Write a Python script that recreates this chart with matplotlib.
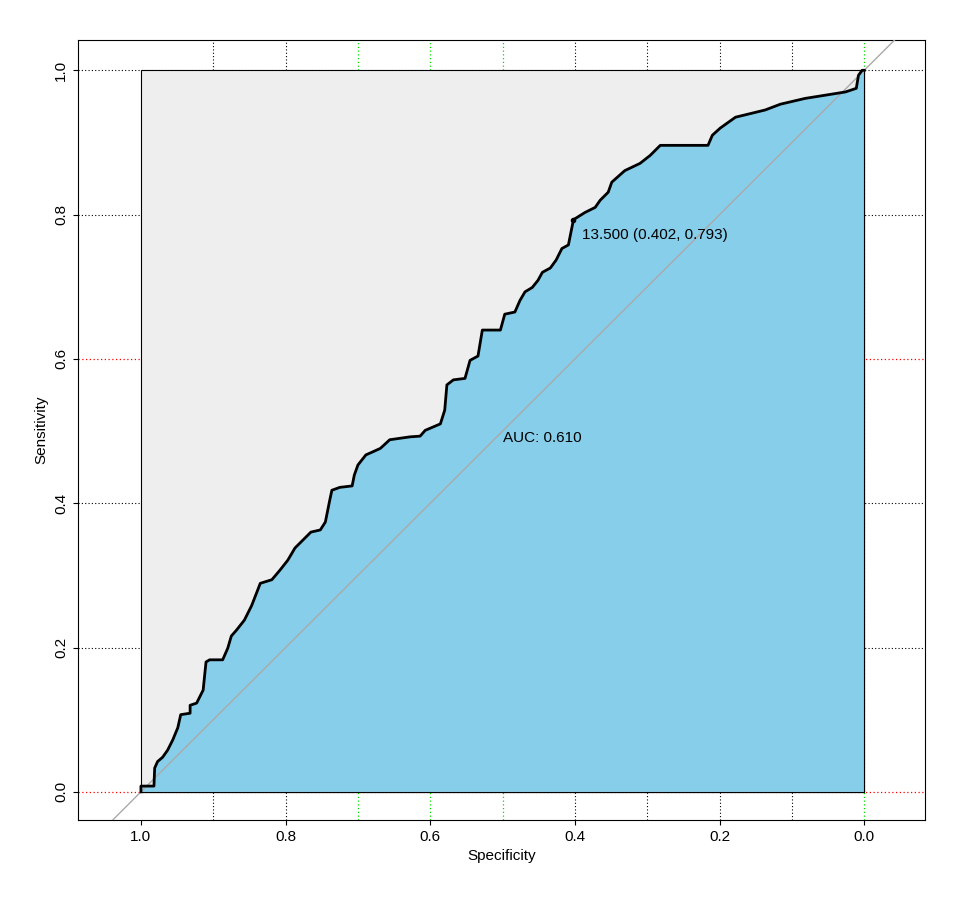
import matplotlib
matplotlib.use("Agg")
import matplotlib.pyplot as plt
import numpy as np

spec = [1.000,1.000,0.982,0.981,0.977,0.970,0.963,0.956,0.949,0.945,0.932,0.932,0.923,0.914,0.910,0.905,0.887,0.880,0.875,0.868,0.857,0.847,0.840,0.835,0.819,0.808,0.797,0.787,0.776,0.765,0.752,0.745,0.739,0.736,0.725,0.708,0.705,0.700,0.689,0.680,0.669,0.656,0.628,0.614,0.607,0.586,0.580,0.577,0.568,0.552,0.545,0.534,0.528,0.503,0.497,0.483,0.476,0.469,0.459,0.451,0.445,0.434,0.426,0.418,0.409,0.402,0.386,0.372,0.365,0.354,0.349,0.331,0.310,0.296,0.282,0.216,0.210,0.199,0.178,0.137,0.116,0.082,0.026,0.011,0.008,0.003,0.000]
sens = [0.000,0.008,0.008,0.033,0.042,0.048,0.058,0.072,0.089,0.107,0.109,0.120,0.123,0.141,0.180,0.183,0.183,0.199,0.216,0.224,0.238,0.258,0.276,0.289,0.294,0.307,0.321,0.338,0.349,0.360,0.363,0.374,0.404,0.418,0.422,0.424,0.439,0.453,0.467,0.471,0.476,0.488,0.492,0.493,0.501,0.510,0.529,0.564,0.571,0.573,0.598,0.604,0.640,0.640,0.662,0.665,0.681,0.693,0.699,0.709,0.720,0.726,0.737,0.753,0.758,0.793,0.803,0.810,0.820,0.831,0.845,0.861,0.871,0.882,0.896,0.896,0.910,0.920,0.935,0.945,0.953,0.961,0.970,0.975,0.993,1.000,1.000]
auc = 0.610
thr, thr_spec, thr_sens = 13.5, 0.402, 0.793

plt.rcParams['font.family'] = ['Liberation Sans', 'DejaVu Sans']
fig = plt.figure(figsize=(9.67, 9.0), dpi=100)
ax = fig.add_axes([78/967, 80/900, 847/967, 780/900])
ax.set_xlim(1.087, -0.084)
ax.set_ylim(-0.039, 1.042)

for v in [0.9,0.8,0.4,0.3,0.2,0.1]:
    ax.axvline(v, color='black', ls=(0,(1,2)), lw=0.8, zorder=0)
for v in [0.7,0.6,0.5,0.0]:
    ax.axvline(v, color='#00dd00', ls=(0,(1,2)), lw=0.9, zorder=0)
for v in [1.0,0.8,0.4,0.2]:
    ax.axhline(v, color='black', ls=(0,(1,2)), lw=0.8, zorder=0)
for v in [0.6,0.0]:
    ax.axhline(v, color='red', ls=(0,(1,2)), lw=0.9, zorder=0)

ax.fill([1,0,0,1],[0,0,1,1], facecolor='#EEEEEE', edgecolor='black', lw=0.8, zorder=1)
ax.fill_between(spec, sens, 0, facecolor='#87CEEB', edgecolor='none', zorder=2)
ax.plot([1,0,0],[0,0,1], color='black', lw=0.8, zorder=2.5)
ax.plot([1.2,-0.2],[-0.2,1.2], color='#aaaaaa', lw=1, zorder=3)
ax.plot(spec, sens, color='black', lw=2, zorder=4)
ax.plot([thr_spec],[thr_sens], 'o', color='black', ms=3, zorder=5)
ax.text(thr_spec-0.012, thr_sens-0.012, f"{thr:.3f} ({thr_spec:.3f}, {thr_sens:.3f})", fontsize=11, va='top', ha='left', zorder=6)
ax.text(0.5, 0.49, f"AUC: {auc:.3f}", fontsize=11, va='center', ha='left', zorder=6)

ticks = [1.0,0.8,0.6,0.4,0.2,0.0]
ax.set_xticks(ticks)
ax.set_xticklabels([f"{t:.1f}" for t in ticks], fontsize=11)
ax.set_yticks(ticks)
ax.set_yticklabels([f"{t:.1f}" for t in ticks], fontsize=11, rotation=90, va='center')
ax.set_xlabel("Specificity", fontsize=11)
ax.set_ylabel("Sensitivity", fontsize=11)
fig.savefig("out.png", dpi=100)
